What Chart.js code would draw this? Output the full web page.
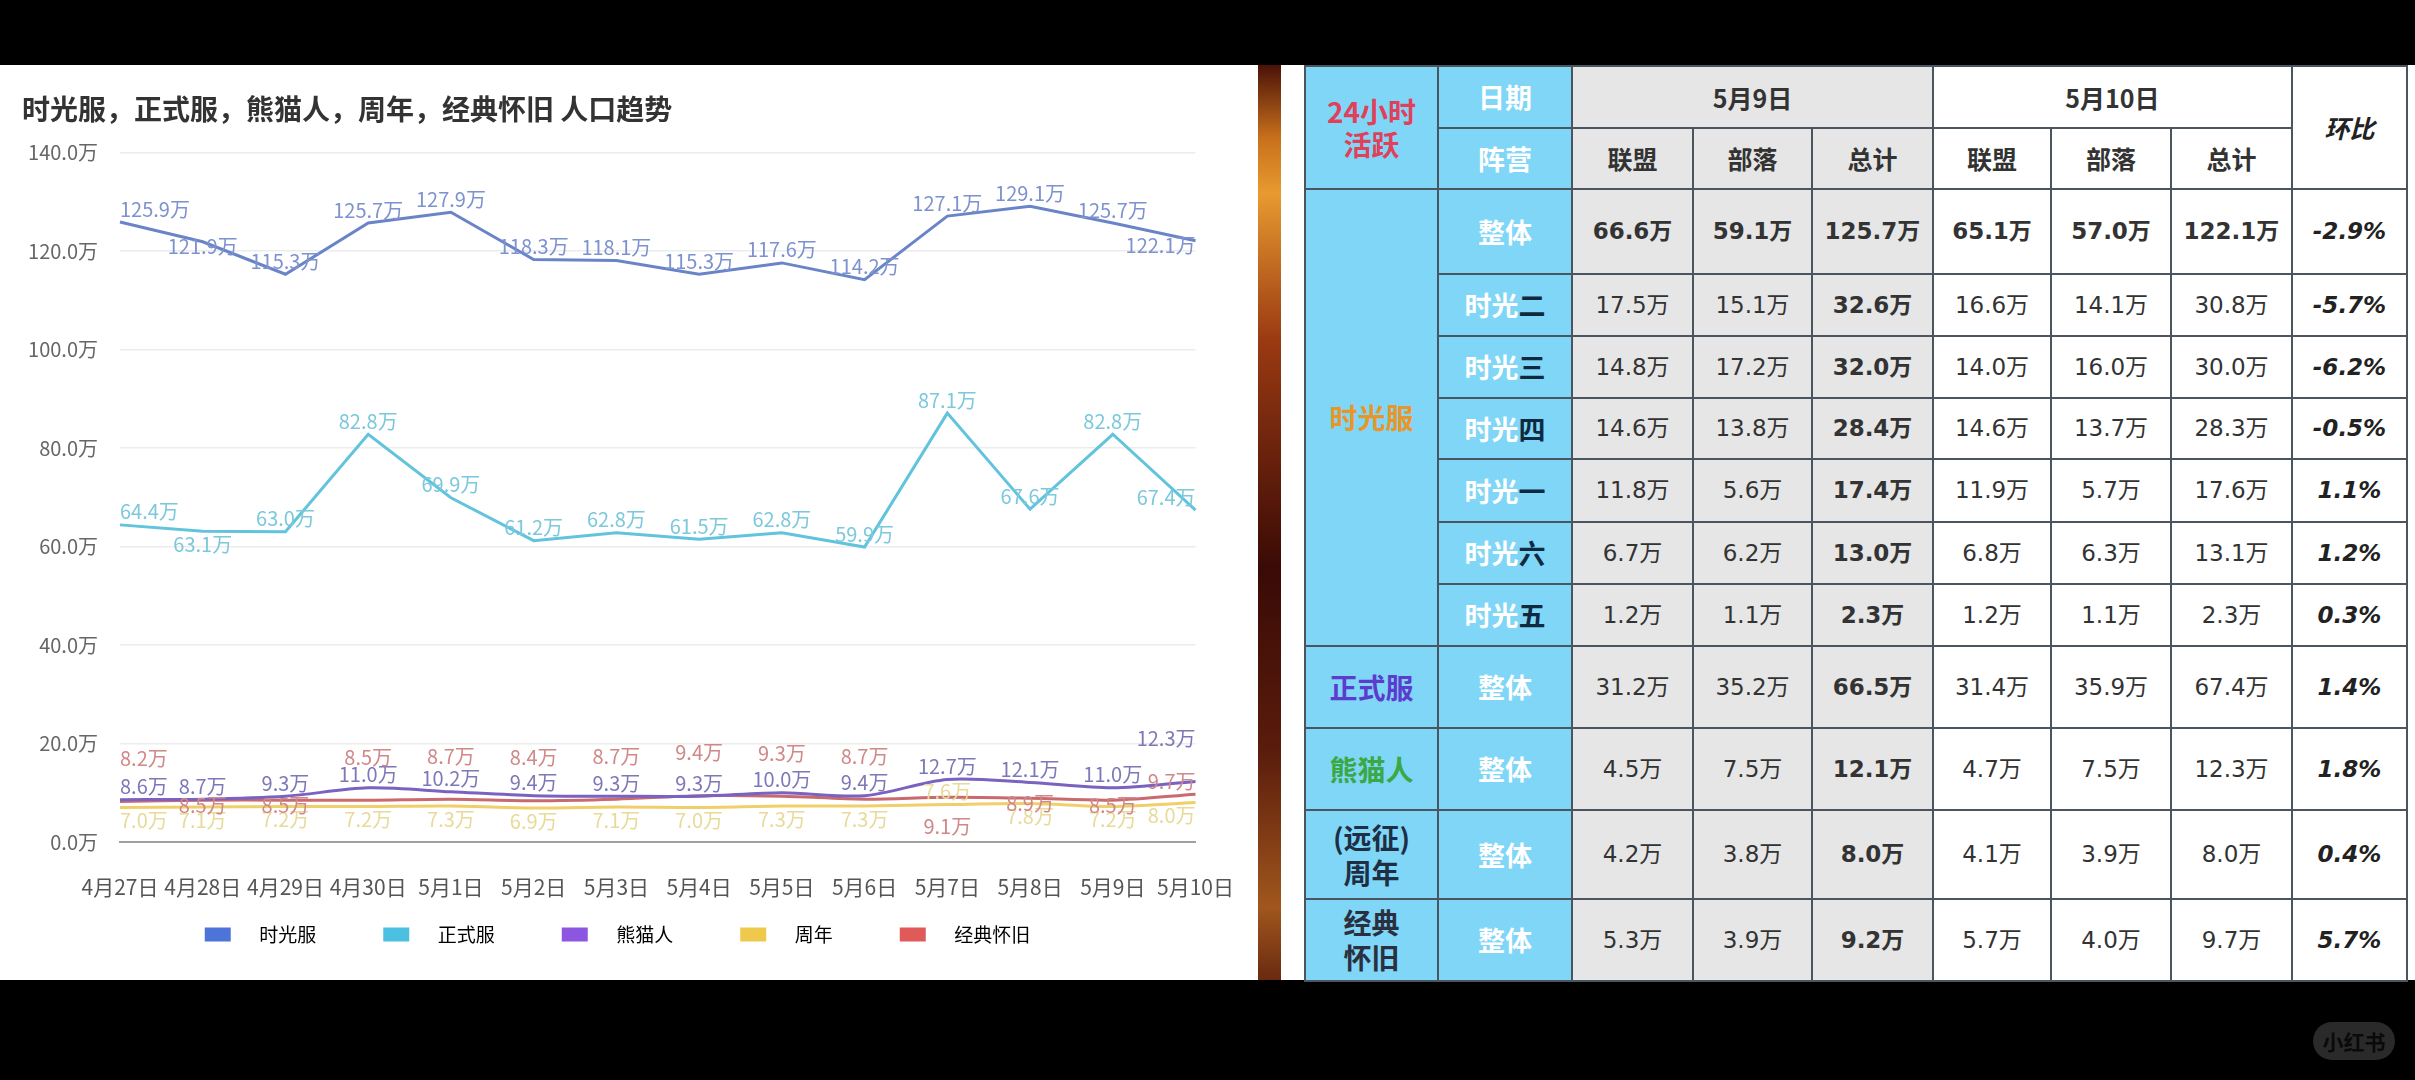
<!DOCTYPE html>
<html>
<head>
<meta charset="utf-8">
<script src="https://cdn.jsdelivr.net/npm/chart.js@4.4.1/dist/chart.umd.min.js"></script>
<style>
  html, body { margin:0; padding:0; width:2415px; height:1080px; background:#000; overflow:hidden; }
  #panel { position:absolute; left:0; top:65px; width:1258px; height:915px; background:#fff; }
  #strip { position:absolute; left:1258px; top:65px; width:23px; height:915px;
    background:linear-gradient(to bottom,#4a1208 0%,#c8701c 8%,#e89a30 14%,#9a3a12 30%,#3a0a06 55%,#5a1c0c 75%,#a0561c 92%,#6a2a10 100%); }
  #side { position:absolute; left:1281px; top:65px; width:1134px; height:915px; background:#fff; }
  #tbl { position:absolute; left:23px; top:0; border-collapse:collapse; table-layout:fixed; }
  #tbl td { border:2px solid #4b5560; text-align:center; vertical-align:middle; padding:0; color:#333;
    font-family:"DejaVu Sans","Noto Sans CJK SC",sans-serif; font-size:23px; line-height:1.15; }
  #tbl td.blue { background:#80d6f7; font-family:"Noto Sans CJK SC",sans-serif; font-weight:700; font-size:27px; color:#fff; }
  #tbl td.grey { background:#e6e6e6; }
  #tbl td.hd { font-family:"Noto Sans CJK SC",sans-serif; font-weight:700; font-size:25px; color:#333; }
  #tbl td.b { font-weight:700; }
  #tbl td.pct { font-weight:700; font-style:italic; color:#222; }
  .dk { color:#0f2a40; }
  #wm { position:absolute; left:2313px; top:1022px; width:82px; height:38px; border-radius:19px; background:#2a2a2a;
    color:#0a0a0a; font:700 21px "Noto Sans CJK SC",sans-serif; text-align:center; line-height:38px; }
</style>
</head>
<body>
<div id="panel"><canvas id="mycanvas" width="1258" height="915"></canvas></div>
<div id="strip"></div>
<div id="side"><table id="tbl"></table></div>
<div id="wm">小红书</div>
<script>
// chart data
var dates = ['4月27日','4月28日','4月29日','4月30日','5月1日','5月2日','5月3日','5月4日','5月5日','5月6日','5月7日','5月8日','5月9日','5月10日'];
var seriesNames = ['时光服','正式服','熊猫人','周年','经典怀旧'];
var shiguang = [125.9,121.9,115.3,125.7,127.9,118.3,118.1,115.3,117.6,114.2,127.1,129.1,125.7,122.1];
var zhengshi = [64.4,63.1,63.0,82.8,69.9,61.2,62.8,61.5,62.8,59.9,87.1,67.6,82.8,67.4];
var xiongmao = [8.6,8.7,9.3,11.0,10.2,9.4,9.3,9.3,10.0,9.4,12.7,12.1,11.0,12.3];
var zhounian = [7.0,7.1,7.2,7.2,7.3,6.9,7.1,7.0,7.3,7.3,7.6,7.8,7.2,8.0];
var jingdian = [8.2,8.5,8.5,8.5,8.7,8.4,8.7,9.4,9.3,8.7,9.1,8.9,8.5,9.7];
var yMin = 0, yMax = 140, yStep = 20;

// table data
var tblDates = ['5月9日','5月10日'];
var tblCamps = ['联盟','部落','总计'];
var tblGroups = [
  {name:'时光服', color:'#e8962a', rows:[
    ['整体','66.6万','59.1万','125.7万','65.1万','57.0万','122.1万','-2.9%'],
    ['时光|二','17.5万','15.1万','32.6万','16.6万','14.1万','30.8万','-5.7%'],
    ['时光|三','14.8万','17.2万','32.0万','14.0万','16.0万','30.0万','-6.2%'],
    ['时光|四','14.6万','13.8万','28.4万','14.6万','13.7万','28.3万','-0.5%'],
    ['时光|一','11.8万','5.6万','17.4万','11.9万','5.7万','17.6万','1.1%'],
    ['时光|六','6.7万','6.2万','13.0万','6.8万','6.3万','13.1万','1.2%'],
    ['时光|五','1.2万','1.1万','2.3万','1.2万','1.1万','2.3万','0.3%']]},
  {name:'正式服', color:'#5b3ccf', rows:[['整体','31.2万','35.2万','66.5万','31.4万','35.9万','67.4万','1.4%']]},
  {name:'熊猫人', color:'#3aa845', rows:[['整体','4.5万','7.5万','12.1万','4.7万','7.5万','12.3万','1.8%']]},
  {name:'(远征)<br>周年', color:'#1e2e44', rows:[['整体','4.2万','3.8万','8.0万','4.1万','3.9万','8.0万','0.4%']]},
  {name:'经典<br>怀旧', color:'#2a3040', rows:[['整体','5.3万','3.9万','9.2万','5.7万','4.0万','9.7万','5.7%']]}
];

var lineColors = ['#6a84c8','#62c3dc','#7a62c0','#f0cf6a','#c86a6e'];
var legendColors = ['#4d74d8','#4cc0e0','#8c56e0','#efc94c','#e05a5a'];
var labelColors = ['#7d92cf','#7cc8dc','#7d78b8','#e8da98','#d08888'];
var labelOffsets = {top:-13, mid:5, bottom:13, low:29, high:-43};
var labelPlace = [
  {def:'top', special:{1:'mid', 13:'mid'}},
  {def:'top', special:{1:'bottom'}},
  {def:'top', special:{13:'high'}},
  {def:'bottom', special:{10:'top'}},
  {def:'high', special:{1:'mid',2:'mid',10:'low',11:'mid',12:'mid',13:'top'}}
];

// build table
(function(){
  var widths = [133,134,121,119,121,118,120,121,115];
  var heights = [62,61,85,62,62,61,63,62,62,82,82,89,82];
  var h = '<colgroup>';
  widths.forEach(function(w){ h += '<col style="width:' + w + 'px">'; });
  h += '</colgroup>';
  var r = 0;
  h += '<tr style="height:' + heights[r++] + 'px"><td class="blue" rowspan="2" style="color:#e0405a;font-size:28px">24小时<br>活跃</td>';
  h += '<td class="blue">日期</td><td class="grey hd" colspan="3">' + tblDates[0] + '</td><td class="hd" colspan="3">' + tblDates[1] + '</td>';
  h += '<td class="hd pct" rowspan="2">环比</td></tr>';
  h += '<tr style="height:' + heights[r++] + 'px"><td class="blue">阵营</td>';
  tblCamps.forEach(function(c){ h += '<td class="grey hd">' + c + '</td>'; });
  tblCamps.forEach(function(c){ h += '<td class="hd">' + c + '</td>'; });
  h += '</tr>';
  tblGroups.forEach(function(g, gi){
    g.rows.forEach(function(row, ri){
      h += '<tr style="height:' + heights[r++] + 'px">';
      if (ri === 0) h += '<td class="blue" rowspan="' + g.rows.length + '" style="color:' + g.color + ';font-size:28px;line-height:1.25">' + g.name + '</td>';
      var nm = row[0].split('|');
      h += '<td class="blue">' + nm[0] + (nm[1] ? '<span class="dk">' + nm[1] + '</span>' : '') + '</td>';
      for (var k = 1; k <= 6; k++) {
        var cls = k <= 3 ? 'grey' : '';
        if ((gi === 0 && ri === 0) || k === 3) cls += ' b';
        h += '<td class="' + cls + '">' + row[k] + '</td>';
      }
      h += '<td class="pct">' + row[7] + '</td></tr>';
    });
  });
  document.getElementById('tbl').innerHTML = h;
})();

var labelPlugin = {
  id: 'pointLabels',
  afterDatasetsDraw: function(chart) {
    var ctx = chart.ctx, area = chart.chartArea;
    ctx.save();
    ctx.font = '20px "Noto Sans CJK SC", "Noto Sans", sans-serif';
    ctx.textAlign = 'center';
    ctx.textBaseline = 'middle';
    chart.data.datasets.forEach(function(ds, i) {
      var meta = chart.getDatasetMeta(i);
      var place = labelPlace[i];
      meta.data.forEach(function(pt, j) {
        var txt = ds.data[j].toFixed(1) + '万';
        var w = ctx.measureText(txt).width;
        var x = Math.min(Math.max(pt.x, area.left + w / 2), area.right - w / 2);
        var pos = place.special[j] || place.def;
        ctx.fillStyle = labelColors[i];
        ctx.fillText(txt, x, pt.y + labelOffsets[pos]);
      });
    });
    ctx.restore();
  }
};

Chart.defaults.font.family = '"Noto Sans CJK SC", "Noto Sans", sans-serif';

var allSeries = [shiguang, zhengshi, xiongmao, zhounian, jingdian];
var datasets = allSeries.map(function(vals, i) {
  return {
    label: seriesNames[i],
    data: vals,
    borderColor: lineColors[i],
    backgroundColor: legendColors[i],
    borderWidth: 3,
    pointRadius: 0,
    tension: i < 2 ? 0 : 0.3,
    fill: false
  };
});

var ctx = document.getElementById('mycanvas');
var lineGraph = new Chart(ctx, {
  type: 'line',
  data: { labels: dates, datasets: datasets },
  plugins: [labelPlugin],
  options: {
    responsive: false,
    animation: false,
    devicePixelRatio: 1,
    layout: { padding: { left: 22, right: 45, top: 0, bottom: 26 } },
    plugins: {
      title: {
        display: true,
        text: '时光服，正式服，熊猫人，周年，经典怀旧 人口趋势',
        align: 'start',
        color: '#333',
        font: { size: 28, weight: 'bold' },
        padding: { top: 28, bottom: 26 }
      },
      legend: {
        position: 'bottom',
        labels: {
          boxWidth: 26,
          boxHeight: 14,
          padding: 10,
          color: '#aaa',
          font: { size: 19 },
          generateLabels: function(chart) {
            var n = chart.data.datasets.length;
            return chart.data.datasets.map(function(ds, i) {
              return {
                text: '\u3000' + ds.label + (i === n - 1 ? '' : '\u3000\u3000\u3000'),
                fillStyle: legendColors[i],
                strokeStyle: legendColors[i],
                lineWidth: 0,
                hidden: !chart.isDatasetVisible(i),
                datasetIndex: i
              };
            });
          }
        }
      },
      tooltip: { enabled: false }
    },
    scales: {
      x: {
        offset: false,
        grid: { display: false },
        border: { display: true, color: '#a0a0a0', width: 2 },
        ticks: { color: '#555', font: { size: 21 }, padding: 24, maxRotation: 0, autoSkip: false },
        afterFit: function(scale) { scale.height = 73; }
      },
      y: {
        min: yMin,
        max: yMax,
        border: { display: false },
        grid: { color: '#ececec', lineWidth: 1.5, drawTicks: false },
        ticks: {
          stepSize: yStep,
          color: '#666',
          font: { size: 20 },
          padding: 22,
          callback: function(v) { return v.toFixed(1) + '万'; }
        },
        afterFit: function(scale) { scale.width = 98; }
      }
    }
  }
});
</script>
</body>
</html>
